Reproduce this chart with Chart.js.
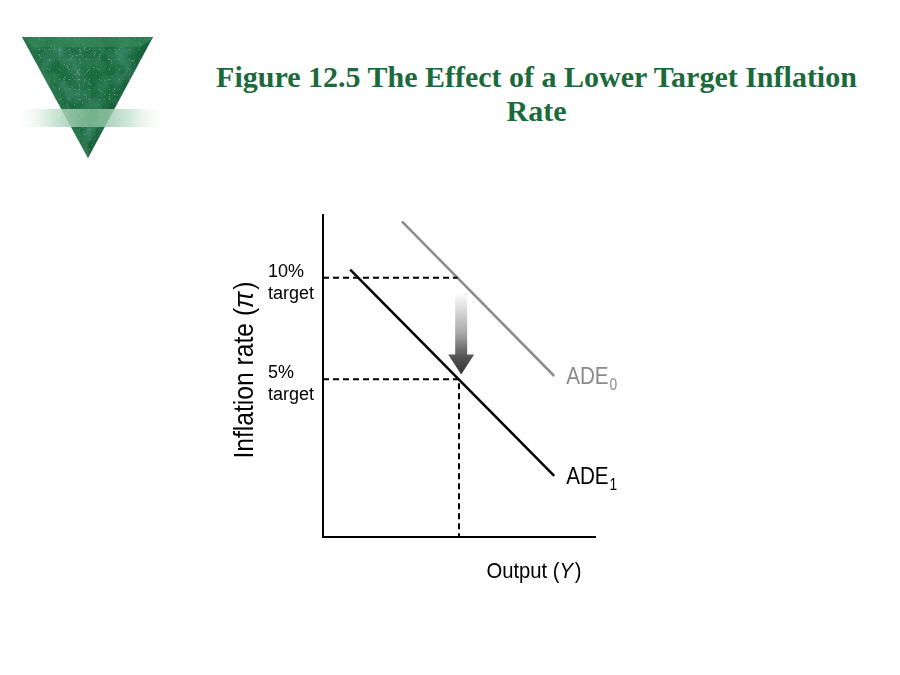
<!DOCTYPE html>
<html lang="en">
  <head>
    <meta charset="UTF-8" />
    <title>Figure 12.5 The Effect of a Lower Target Inflation Rate</title>
    <script src="https://cdn.jsdelivr.net/npm/chart.js@4.4.1/dist/chart.umd.min.js"></script>
    <style>
      html, body { margin: 0; padding: 0; background: #fff; }
      body { width: 900px; height: 675px; position: relative; overflow: hidden; }
      #logo { position: absolute; left: 0; top: 0; }
      h1 {
        position: absolute; left: 175px; top: 60px; width: 723px; margin: 0;
        text-align: center; color: #1b6a3c; line-height: 35px;
        font: bold 30px "Liberation Serif", "Times New Roman", serif;
      }
      #wrap { position: absolute; left: 0; top: 0; width: 900px; height: 675px; }
    </style>
  </head>
  <body>
    <svg id="logo" width="200" height="180">
      <defs>
        <filter id="marble" x="0" y="0" width="100%" height="100%">
          <feTurbulence type="fractalNoise" baseFrequency="0.06" numOctaves="3" seed="4" result="n1" />
          <feColorMatrix in="n1" type="matrix"
            values="0 0 0 0 0.05  0 0 0 0 0.26  0 0 0 0 0.15  0 0 0 1.6 -0.55" result="dark" />
          <feComposite in="dark" in2="SourceGraphic" operator="in" result="d" />
          <feTurbulence type="turbulence" baseFrequency="0.1" numOctaves="3" seed="9" result="n2" />
          <feColorMatrix in="n2" type="matrix"
            values="0 0 0 0 0.36  0 0 0 0 0.6  0 0 0 0 0.45  0 0 0 -4 0.45" result="light" />
          <feComposite in="light" in2="SourceGraphic" operator="in" result="l" />
          <feMerge><feMergeNode in="SourceGraphic" /><feMergeNode in="d" /><feMergeNode in="l" /></feMerge>
        </filter>
        <linearGradient id="band" x1="0" x2="1" y1="0" y2="0">
          <stop offset="0" stop-color="#ffffff" stop-opacity="0" />
          <stop offset="0.25" stop-color="#c2e0cc" stop-opacity="0.8" />
          <stop offset="0.5" stop-color="#7fba96" stop-opacity="0.85" />
          <stop offset="0.75" stop-color="#c2e0cc" stop-opacity="0.75" />
          <stop offset="1" stop-color="#ffffff" stop-opacity="0" />
        </linearGradient>
      </defs>
      <polygon points="22,37 153,37 88,158" fill="#1f6c3f" filter="url(#marble)" />
      <polygon points="22,37 153,37 141,47 34,47" fill="#3b8b5b" opacity="0.55" />
      <polygon points="22,37 34,47 88,145 88,158" fill="#2f7c4e" opacity="0.45" />
      <polygon points="153,37 141,47 88,145 88,158" fill="#124a2b" opacity="0.3" />
      <rect x="14" y="109" width="154" height="18" fill="url(#band)" />
    </svg>

    <h1>Figure 12.5 The Effect of a Lower Target Inflation<br />Rate</h1>

    <div id="wrap"><canvas id="myChart"></canvas></div>

    <script>
      // values, axes run 0..100 in both directions
      const ade0X = [29, 85];
      const ade0Y = [98, 50];
      const ade1X = [10, 85];
      const ade1Y = [83, 19];
      const curveNames = ['ADE', 'ADE'];
      const curveSubs = ['0', '1'];

      const targetLevels = [49, 80.5]; // 5% and 10% targets
      const targetLabels = [['5%', 'target'], ['10%', 'target']];
      const outputOldTarget = 49.5; // where 10% line meets ADE0
      const outputNewTarget = 50; // where 5% line meets ADE1

      const arrowX = 50.8;
      const arrowFrom = 76;
      const arrowTo = 50.5;

      const xTitle = ['Output (', 'Y', ')'];
      const yTitle = ['Inflation rate (', '\u03c0', ')'];

      const FONT = '"Liberation Sans", Arial, sans-serif';

      const toPoints = (xs, ys) => xs.map((x, i) => ({ x: x, y: ys[i] }));

      // text made of normal / italic pieces, squeezed a bit like the original narrow face
      function pieces(ctx, parts, size, squeeze) {
        const fonts = parts.map((p, i) => (i % 2 === 1 ? 'italic ' : '') + size + 'px ' + FONT);
        const widths = parts.map((p, i) => { ctx.font = fonts[i]; return ctx.measureText(p).width + (i % 2 === 1 ? 2 : 0); });
        const total = widths.reduce((a, b) => a + b, 0);
        ctx.scale(squeeze, 1);
        let cx = -total / 2;
        ctx.textAlign = 'left';
        parts.forEach((p, i) => {
          ctx.font = fonts[i];
          ctx.fillText(p, cx, 0);
          cx += widths[i];
        });
      }

      const annotations = {
        id: 'annotations',
        beforeDatasetsDraw(chart) {
          const ctx = chart.ctx;
          const xs = chart.scales.x, ys = chart.scales.y;
          const cx = xs.getPixelForValue(arrowX);
          const y0 = ys.getPixelForValue(arrowFrom);
          const y1 = ys.getPixelForValue(arrowTo);
          const shaft = 6, head = 13, headLen = 20;
          const g = ctx.createLinearGradient(0, y0, 0, y1);
          g.addColorStop(0, '#ffffff');
          g.addColorStop(0.5, '#a8a8a8');
          g.addColorStop(0.78, '#555555');
          g.addColorStop(1, '#333333');
          ctx.save();
          ctx.fillStyle = g;
          ctx.beginPath();
          ctx.moveTo(cx - shaft, y0);
          ctx.lineTo(cx + shaft, y0);
          ctx.lineTo(cx + shaft, y1 - headLen);
          ctx.lineTo(cx + head, y1 - headLen);
          ctx.lineTo(cx, y1);
          ctx.lineTo(cx - head, y1 - headLen);
          ctx.lineTo(cx - shaft, y1 - headLen);
          ctx.closePath();
          ctx.fill();
          ctx.restore();
        },
        afterDraw(chart) {
          const ctx = chart.ctx;
          const xs = chart.scales.x, ys = chart.scales.y;
          const area = chart.chartArea;
          ctx.textBaseline = 'alphabetic';

          // curve labels at the end of each curve
          [2, 3].forEach((di, k) => {
            const d = chart.data.datasets[di];
            const last = d.data[d.data.length - 1];
            const px = xs.getPixelForValue(last.x) + 12;
            const py = ys.getPixelForValue(last.y) + 8;
            ctx.save();
            ctx.translate(px, py);
            ctx.scale(0.86, 1);
            ctx.fillStyle = d.borderColor === '#000000' ? '#000' : '#8a8a8a';
            ctx.textAlign = 'left';
            ctx.font = '24px ' + FONT;
            ctx.fillText(curveNames[k], 0, 0);
            const w = ctx.measureText(curveNames[k]).width;
            ctx.font = '16px ' + FONT;
            ctx.fillText(curveSubs[k], w + 1, 6);
            ctx.restore();
          });

          // axis titles
          ctx.save();
          ctx.fillStyle = '#000';
          ctx.translate(area.left + 211, area.bottom + 41);
          pieces(ctx, xTitle, 22, 0.92);
          ctx.restore();

          ctx.save();
          ctx.fillStyle = '#000';
          ctx.translate(area.left - 70, (area.top + area.bottom) / 2 - 6);
          ctx.rotate(-Math.PI / 2);
          pieces(ctx, yTitle, 28, 0.88);
          ctx.restore();
        }
      };

      const dash = { borderColor: '#000', borderWidth: 2, borderDash: [6, 4], pointRadius: 0, showLine: true, fill: false };

      const ctx = document.getElementById('myChart').getContext('2d');
      const myChart = new Chart(ctx, {
        type: 'scatter',
        data: {
          datasets: [
            Object.assign({ data: [{ x: 0, y: targetLevels[1] }, { x: outputOldTarget, y: targetLevels[1] }] }, dash),
            Object.assign({ data: [{ x: 0, y: targetLevels[0] }, { x: outputNewTarget, y: targetLevels[0] }, { x: outputNewTarget, y: 0 }] }, dash),
            { label: 'ADE0', data: toPoints(ade0X, ade0Y), borderColor: '#8c8c8c', borderWidth: 2.5, pointRadius: 0, showLine: true },
            { label: 'ADE1', data: toPoints(ade1X, ade1Y), borderColor: '#000000', borderWidth: 2.5, pointRadius: 0, showLine: true }
          ]
        },
        options: {
          responsive: true,
          maintainAspectRatio: false,
          animation: false,
          events: [],
          layout: { padding: { left: 268, top: 215, right: 305, bottom: 138 } },
          plugins: { legend: { display: false }, tooltip: { enabled: false } },
          scales: {
            x: {
              type: 'linear', min: 0, max: 100,
              grid: { display: false },
              border: { display: true, color: '#000', width: 2 },
              ticks: { display: false },
              afterFit: s => { s.height = 0; }
            },
            y: {
              type: 'linear', min: 0, max: 100,
              grid: { display: false, drawTicks: false },
              border: { display: true, color: '#000', width: 2 },
              afterBuildTicks: s => { s.ticks = targetLevels.map(v => ({ value: v })); },
              ticks: {
                crossAlign: 'far',
                color: '#000',
                labelOffset: 5,
                font: { family: FONT, size: 18, lineHeight: 1.25 },
                callback: v => targetLabels[targetLevels.indexOf(v)]
              },
              afterFit: s => { s.width = 55; }
            }
          }
        },
        plugins: [annotations]
      });
    </script>
  </body>
</html>
